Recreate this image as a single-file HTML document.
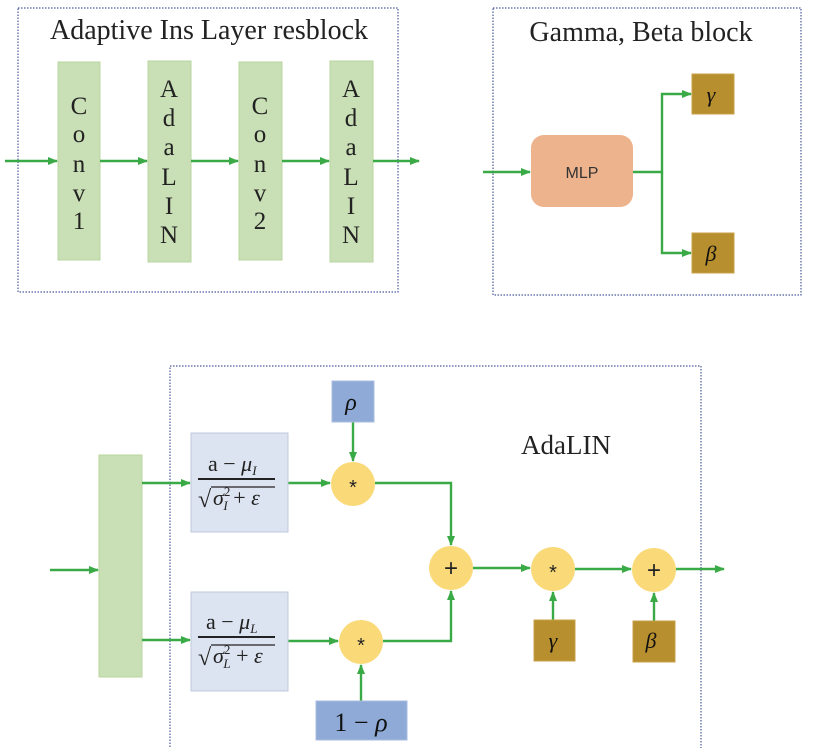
<!DOCTYPE html>
<html><head><meta charset="utf-8"><style>
html,body{margin:0;padding:0;background:#fff;}
svg{display:block;}
.t{font-family:"Liberation Serif",serif;fill:#222;}
.m{font-family:"Liberation Serif",serif;font-style:italic;fill:#111;}
</style></head><body>
<svg width="826" height="748" viewBox="0 0 826 748" xmlns="http://www.w3.org/2000/svg">
<defs>
<marker id="a" markerWidth="10" markerHeight="10" refX="9" refY="5" orient="auto" markerUnits="userSpaceOnUse">
<path d="M0,1 L10,5 L0,9 Z" fill="#3aaa46"/></marker>
</defs>
<g fill="none" stroke="#4a5a9a" stroke-width="1.2" stroke-dasharray="1.5,1.5">
<rect x="18" y="8" width="380" height="284"/>
<rect x="493" y="8" width="308" height="287"/>
<rect x="170" y="366" width="531" height="390"/>
</g>
<text class="t" x="209" y="39" font-size="28" text-anchor="middle">Adaptive Ins Layer resblock</text>
<text class="t" x="641" y="41" font-size="28" text-anchor="middle">Gamma, Beta block</text>
<text class="t" x="566" y="454" font-size="27" text-anchor="middle">AdaLIN</text>

<g fill="#c9dfb5" stroke="#b8d4a0" stroke-width="1">
<rect x="58" y="62" width="42" height="198"/>
<rect x="148" y="61" width="43" height="201"/>
<rect x="239" y="62" width="43" height="198"/>
<rect x="330" y="61" width="43" height="201"/>
<rect x="99" y="455" width="43" height="222"/>
</g>
<g class="t" font-size="25" text-anchor="middle">
<text x="79" y="114">C</text><text x="79" y="142">o</text><text x="79" y="172">n</text><text x="79" y="201">v</text><text x="79" y="229">1</text>
<text x="169" y="97">A</text><text x="169" y="126">d</text><text x="169" y="155">a</text><text x="169" y="185">L</text><text x="169" y="214">I</text><text x="169" y="243">N</text>
<text x="260" y="114">C</text><text x="260" y="142">o</text><text x="260" y="172">n</text><text x="260" y="201">v</text><text x="260" y="229">2</text>
<text x="351" y="97">A</text><text x="351" y="126">d</text><text x="351" y="155">a</text><text x="351" y="185">L</text><text x="351" y="214">I</text><text x="351" y="243">N</text>
</g>

<g stroke="#3aaa46" stroke-width="2.4" fill="none" marker-end="url(#a)">
<line x1="5" y1="161" x2="57" y2="161"/>
<line x1="100" y1="161" x2="147" y2="161"/>
<line x1="191" y1="161" x2="238" y2="161"/>
<line x1="282" y1="161" x2="329" y2="161"/>
<line x1="373" y1="161" x2="419" y2="161"/>
<line x1="483" y1="172" x2="530" y2="172"/>
<polyline points="633,172 662,172 662,94 691,94"/>
<polyline points="662,172 662,253 691,253"/>
<line x1="50" y1="570" x2="98" y2="570"/>
<line x1="142" y1="483" x2="190" y2="483"/>
<line x1="142" y1="640" x2="190" y2="640"/>
<line x1="288" y1="483" x2="330" y2="483"/>
<line x1="288" y1="641" x2="338" y2="641"/>
<line x1="353" y1="422" x2="353" y2="461"/>
<line x1="361" y1="701" x2="361" y2="665"/>
<polyline points="375,483 451,483 451,545"/>
<polyline points="383,641 451,641 451,591"/>
<line x1="473" y1="568" x2="530" y2="568"/>
<line x1="575" y1="569" x2="631" y2="569"/>
<line x1="676" y1="569" x2="724" y2="569"/>
<line x1="553" y1="620" x2="553" y2="592"/>
<line x1="654" y1="621" x2="654" y2="593"/>
</g>

<rect x="531" y="135" width="102" height="72" rx="13" fill="#edb38c"/>
<text x="582" y="178" font-family="Liberation Sans,sans-serif" font-size="16" fill="#333" text-anchor="middle">MLP</text>

<g fill="#b88f2e" stroke="#c9a24a">
<rect x="692" y="74" width="42" height="40"/>
<rect x="692" y="233" width="42" height="40"/>
<rect x="534" y="620" width="41" height="41"/>
<rect x="633" y="621" width="42" height="41"/>
</g>
<g class="m" font-size="22" text-anchor="middle">
<text x="711" y="102">γ</text><text x="711" y="261">β</text>
<text x="553" y="648">γ</text><text x="651" y="648">β</text>
</g>

<g fill="#8faad6" stroke="#a8bce0">
<rect x="332" y="381" width="42" height="41"/>
<rect x="316" y="701" width="91" height="39"/>
</g>
<text class="m" x="351" y="410" font-size="24" text-anchor="middle">ρ</text>
<text x="361" y="731" font-family="Liberation Serif,serif" font-size="26" fill="#111" text-anchor="middle">1 − <tspan font-style="italic">ρ</tspan></text>

<g fill="#dde4f1" stroke="#c0c9dc">
<rect x="191" y="433" width="97" height="99"/>
<rect x="191" y="592" width="97" height="99"/>
</g>
<g font-family="Liberation Serif,serif" fill="#222" font-size="22">
<text x="208" y="471">a − <tspan font-style="italic">μ</tspan><tspan font-style="italic" font-size="13" dy="4">I</tspan></text>
<line x1="198" y1="479" x2="275" y2="479" stroke="#222" stroke-width="2"/>
<text x="198" y="507" font-size="24">√</text>
<text x="213" y="505"><tspan font-style="italic">σ</tspan><tspan font-size="13" dy="-9">2</tspan><tspan font-size="13" font-style="italic" dx="-7" dy="14">I</tspan><tspan dy="-5"> + <tspan font-style="italic">ε</tspan></tspan></text>
<line x1="211" y1="487" x2="275" y2="487" stroke="#222" stroke-width="1.2"/>
<text x="206" y="629">a − <tspan font-style="italic">μ</tspan><tspan font-style="italic" font-size="13" dy="4">L</tspan></text>
<line x1="198" y1="637" x2="275" y2="637" stroke="#222" stroke-width="2"/>
<text x="198" y="665" font-size="24">√</text>
<text x="213" y="663"><tspan font-style="italic">σ</tspan><tspan font-size="13" dy="-9">2</tspan><tspan font-size="13" font-style="italic" dx="-7" dy="14">L</tspan><tspan dy="-5"> + <tspan font-style="italic">ε</tspan></tspan></text>
<line x1="211" y1="645" x2="275" y2="645" stroke="#222" stroke-width="1.2"/>
</g>

<g fill="#f9d978">
<circle cx="353" cy="484" r="22"/>
<circle cx="361" cy="642" r="22"/>
<circle cx="451" cy="568" r="22"/>
<circle cx="553" cy="569" r="22"/>
<circle cx="654" cy="570" r="22"/>
</g>
<g font-family="Liberation Sans,sans-serif" font-size="20" fill="#222" text-anchor="middle">
<text x="353" y="494">*</text><text x="361" y="652">*</text><text x="553" y="579">*</text>
<text x="451" y="576" font-size="24">+</text><text x="654" y="578" font-size="24">+</text>
</g>
</svg>
</body></html>
